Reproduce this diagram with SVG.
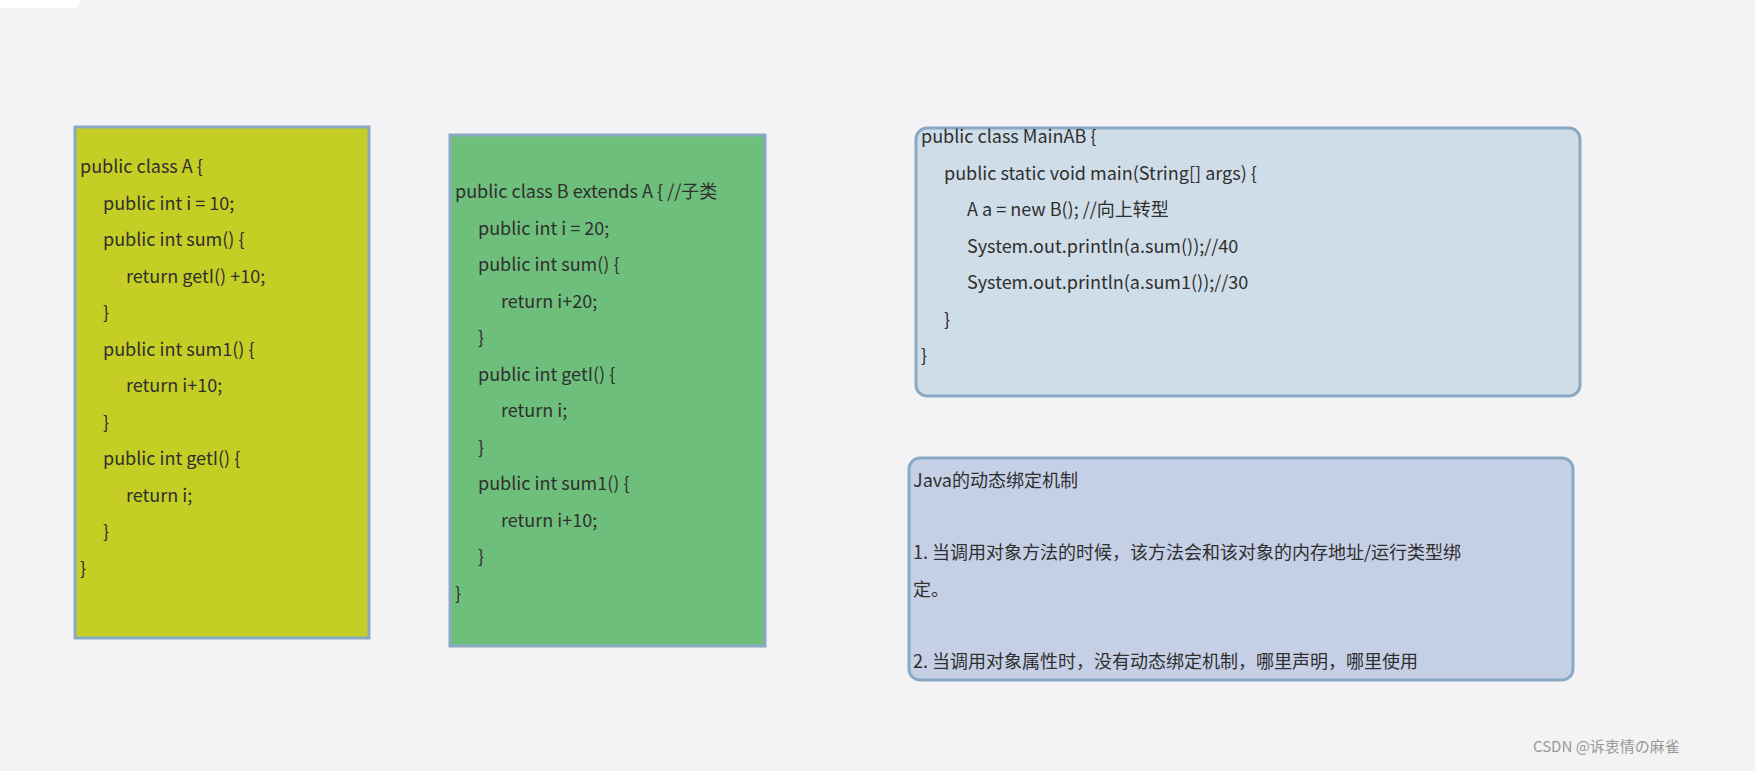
<svg xmlns="http://www.w3.org/2000/svg" width="1755" height="771" viewBox="0 0 1755 771">
<style>
text{font-family:"Noto Sans CJK SC","Noto Sans",sans-serif;font-size:18px;fill:#2f2f2f}
.box{stroke:#8aa9c4;stroke-width:3}
.wm{font-size:15px;fill:#999}
</style>
<rect width="1755" height="771" fill="#f3f3f6"/>
<rect x="-10" y="-10" width="90" height="18" rx="8" fill="#ffffff"/>
<g id="classA">
<rect class="box" x="75" y="127" width="294" height="511" fill="#c5ce24"/>
<text x="80" y="173">public class A {</text>
<text x="103" y="209.5">public int i = 10;</text>
<text x="103" y="246">public int sum() {</text>
<text x="126" y="282.5">return getI() +10;</text>
<text x="103" y="319">}</text>
<text x="103" y="355.5">public int sum1() {</text>
<text x="126" y="392">return i+10;</text>
<text x="103" y="428.5">}</text>
<text x="103" y="465">public int getI() {</text>
<text x="126" y="501.5">return i;</text>
<text x="103" y="538">}</text>
<text x="80" y="574.5">}</text>
</g>
<g id="classB">
<rect class="box" x="450" y="135" width="315" height="511" fill="#6fbf7c"/>
<text x="455" y="198">public class B extends A { //子类</text>
<text x="478" y="234.5">public int i = 20;</text>
<text x="478" y="271">public int sum() {</text>
<text x="501" y="307.5">return i+20;</text>
<text x="478" y="344">}</text>
<text x="478" y="380.5">public int getI() {</text>
<text x="501" y="417">return i;</text>
<text x="478" y="453.5">}</text>
<text x="478" y="490">public int sum1() {</text>
<text x="501" y="526.5">return i+10;</text>
<text x="478" y="563">}</text>
<text x="455" y="599.5">}</text>
</g>
<g id="mainAB">
<rect class="box" x="916" y="128" width="664" height="268" rx="11" fill="#cfdde8"/>
<text x="921" y="143">public class MainAB {</text>
<text x="944" y="179.5">public static void main(String[] args) {</text>
<text x="967" y="216">A a = new B(); //向上转型</text>
<text x="967" y="252.5">System.out.println(a.sum());//40</text>
<text x="967" y="289">System.out.println(a.sum1());//30</text>
<text x="944" y="325.5">}</text>
<text x="921" y="362">}</text>
</g>
<g id="note">
<rect class="box" x="909" y="458" width="664" height="222" rx="11" fill="#c5cfe6"/>
<text x="913" y="486.5">Java的动态绑定机制</text>
<text x="913" y="559">1. 当调用对象方法的时候，该方法会和该对象的内存地址/运行类型绑</text>
<text x="913" y="596">定。</text>
<text x="913" y="668">2. 当调用对象属性时，没有动态绑定机制，哪里声明，哪里使用</text>
</g>
<g id="connectors"></g>
<text class="wm" x="1533" y="752">CSDN @诉衷情の麻雀</text>
</svg>
